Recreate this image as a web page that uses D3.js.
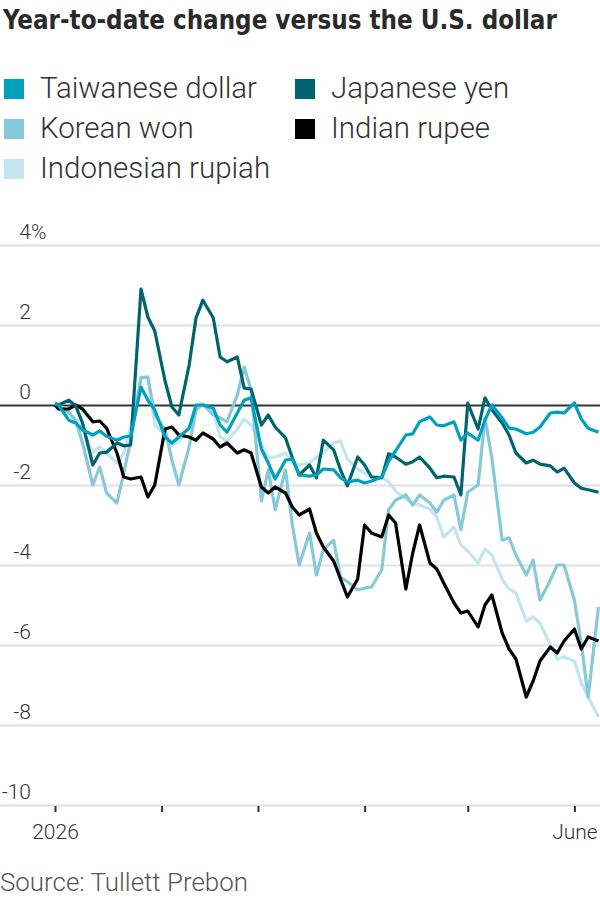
<!DOCTYPE html>
<html><head><meta charset="utf-8">
<script src="https://cdn.jsdelivr.net/npm/d3@7"></script>
<style>body{margin:0;background:#fff}svg{display:block}</style>
</head><body>
<svg id="c" width="600" height="900"></svg>
<script>
const dates = ["2026-01-01","2026-01-02","2026-01-05","2026-01-07","2026-01-09","2026-01-12","2026-01-14","2026-01-16","2026-01-19","2026-01-21","2026-01-23","2026-01-26","2026-01-28","2026-01-30",
"2026-02-02","2026-02-04","2026-02-06","2026-02-09","2026-02-11","2026-02-13","2026-02-16","2026-02-18","2026-02-20","2026-02-23","2026-02-25","2026-02-27",
"2026-03-02","2026-03-04","2026-03-06","2026-03-09","2026-03-11","2026-03-13","2026-03-16","2026-03-18","2026-03-20","2026-03-23","2026-03-25","2026-03-27","2026-03-30",
"2026-04-01","2026-04-03","2026-04-06","2026-04-08","2026-04-10","2026-04-13","2026-04-15","2026-04-17","2026-04-20","2026-04-22","2026-04-24","2026-04-27","2026-04-29",
"2026-05-01","2026-05-04","2026-05-06","2026-05-08","2026-05-11","2026-05-13","2026-05-15","2026-05-18","2026-05-20","2026-05-22","2026-05-25","2026-05-27","2026-05-29",
"2026-06-01","2026-06-03","2026-06-05","2026-06-08"];

const taiwaneseDollar = [0.05,0.0,-0.38,-0.45,-0.62,-0.75,-0.65,-0.78,-0.88,-0.8,-0.78,0.45,0.12,-0.12,
-0.8,-0.95,-0.8,-0.58,0.0,0.0,-0.08,-0.5,-0.68,-0.2,0.12,0.18,
-1.1,-1.45,-1.85,-1.38,-1.35,-1.75,-1.78,-1.75,-1.6,-1.62,-1.82,-1.92,-1.88,
-1.95,-1.9,-1.8,-1.4,-1.15,-0.75,-0.72,-0.42,-0.3,-0.5,-0.52,-0.42,-0.88,
-0.7,-0.88,-0.38,0.0,-0.32,-0.58,-0.6,-0.72,-0.68,-0.55,-0.2,-0.18,-0.2,
0.05,-0.35,-0.58,-0.68];

const japaneseYen = [0,0.0,0.12,-0.02,-0.45,-1.5,-1.2,-1.18,-0.95,-1.02,-1.0,2.9,2.2,1.85,
0.6,-0.05,-0.25,1.0,2.18,2.62,2.18,1.2,1.08,1.2,0.42,0.4,
-0.5,-0.25,-0.55,-0.82,-1.32,-1.75,-1.5,-1.82,-0.88,-1.12,-1.62,-2.02,-1.3,
-1.5,-1.8,-1.82,-1.22,-1.3,-1.48,-1.42,-1.3,-1.58,-1.82,-1.78,-1.8,-2.25,
0.05,-0.6,0.18,-0.12,-0.45,-0.75,-1.2,-1.45,-1.38,-1.48,-1.52,-1.68,-1.58,
-1.95,-2.08,-2.12,-2.18];

const koreanWon = [0,-0.1,-0.18,-0.38,-0.95,-2.0,-1.55,-2.2,-2.45,-1.7,-0.88,0.68,0.7,-0.25,
-0.62,-1.38,-2.0,-1.05,-0.12,0.02,-0.25,-0.32,-0.42,0.25,0.95,0.38,
-2.4,-1.62,-2.62,-1.62,-3.0,-4.0,-3.2,-4.25,-3.62,-3.38,-4.3,-4.42,-4.62,
-4.58,-4.55,-4.12,-2.62,-2.38,-2.25,-2.5,-2.25,-2.45,-2.68,-2.38,-2.25,-3.12,
-2.18,-2.0,-0.32,-1.32,-3.38,-3.32,-3.75,-4.25,-3.88,-4.88,-4.38,-4.0,-4.0,
-4.88,-5.95,-7.3,-5.05];

const indianRupee = [0,-0.1,-0.1,0.0,-0.1,-0.42,-0.4,-0.58,-1.2,-1.8,-1.85,-1.8,-2.3,-2.0,
-0.6,-0.55,-0.75,-0.8,-0.88,-0.7,-0.85,-1.05,-0.95,-1.2,-1.12,-1.2,
-2.05,-2.2,-2.05,-2.2,-2.55,-2.75,-2.6,-3.2,-3.55,-3.9,-4.35,-4.8,-4.35,
-3.0,-3.2,-3.3,-2.75,-2.95,-4.6,-3.7,-3.0,-3.95,-4.1,-4.45,-4.95,-5.2,
-5.15,-5.55,-5.0,-4.75,-5.7,-6.1,-6.35,-7.3,-6.9,-6.4,-6.05,-6.2,-5.9,
-5.6,-6.1,-5.8,-5.9];

const indonesianRupiah = [0.05,0.0,-0.2,-0.38,-0.6,-1.2,-1.05,-1.2,-1.45,-1.2,-0.55,0.7,0.7,-0.5,
-0.75,-1.0,-0.9,-0.55,-0.1,0.0,-0.15,-0.8,-0.9,-0.6,-0.35,-0.5,
-1.0,-1.3,-1.3,-1.2,-1.45,-1.5,-1.45,-1.3,-1.2,-0.95,-0.9,-1.35,-1.6,
-1.7,-1.8,-1.8,-1.92,-2.15,-2.35,-2.45,-2.5,-2.6,-2.8,-3.3,-3.05,-3.5,
-3.65,-3.95,-3.6,-3.75,-4.35,-4.6,-4.7,-5.4,-5.3,-5.45,-6.0,-6.35,-6.3,
-6.4,-6.95,-7.3,-7.8];

const seriesNames = ["Taiwanese dollar","Japanese yen","Korean won","Indian rupee","Indonesian rupiah"];
const seriesColors = ["#00a1be","#00646f","#86c9d8","#000000","#c3e5ed"];
const yTicks = [4,2,0,-2,-4,-6,-8,-10];
const xTickLabels = {"0":"2026","5":"June"};
const titleText = "Year-to-date change versus the U.S. dollar";
const sourceText = "Source: Tullett Prebon";

const parse = d3.utcParse("%Y-%m-%d");
const dd = dates.map(parse);
const svg = d3.select("#c");
const W = 600;

const x = d3.scaleUtc().domain([parse("2026-01-01"), parse("2026-06-01")]).range([55, 574.4]);
const y = d3.scaleLinear().domain([-10, 4]).range([805, 245]);

const sans = "Roboto, 'Liberation Sans', sans-serif";

function fit(sel, target) {
  const node = sel.node();
  const fs = parseFloat(sel.attr("font-size"));
  const w = node.getComputedTextLength();
  sel.attr("font-size", (fs * target / w).toFixed(2));
  return fs * target / w;
}

// Title
const title = svg.append("text").attr("x", 3).attr("y", 29)
  .attr("font-family", "'Liberation Sans Narrow', 'DejaVu Sans Condensed', sans-serif")
  .attr("font-weight", "bold").attr("font-size", 25).attr("fill", "#2a2a2a")
  .text(titleText);
fit(title, 554);

// Legend
const legendPos = [[4,79],[295,79],[4,119],[295,119],[4,159]];
const legendOrder = [0,1,2,3,4];
let legendFs = 28;
const lg = svg.append("g");
legendOrder.forEach((si, k) => {
  const [lx, ly] = legendPos[k];
  lg.append("rect").attr("x", lx).attr("y", ly).attr("width", 20).attr("height", 20).attr("fill", seriesColors[si]);
  const t = lg.append("text").attr("class", "lt").attr("x", lx + 36).attr("y", ly + 18.5)
    .attr("font-family", sans).attr("font-weight", 300).attr("font-size", legendFs)
    .attr("fill", "#333").text(seriesNames[si]);
  if (si === 0) legendFs = fit(t, 217);
});
lg.selectAll("text.lt").attr("font-size", legendFs.toFixed(2));

// Y grid + labels
const yAxis = svg.append("g")
  .call(d3.axisRight(y).tickValues(yTicks).tickSize(W).tickFormat(d => d === 4 ? "4%" : String(d)));
yAxis.select(".domain").remove();
yAxis.selectAll(".tick line").attr("stroke", d => d === 0 ? "#333" : "#e0e0e0").attr("stroke-width", 2);
yAxis.selectAll(".tick text").attr("x", 31).attr("y", 0).attr("dy", -7).attr("text-anchor", "end")
  .attr("font-family", sans).attr("font-weight", 300).attr("font-size", 21).attr("fill", "#333");
yAxis.selectAll(".tick text").filter(d => d === 4).each(function() {
  const t = d3.select(this);
  t.text("4");
  const w4 = this.getComputedTextLength();
  t.text("4%");
  const wAll = this.getComputedTextLength();
  t.attr("x", 31 + (wAll - w4));
});

// Lines
const series = [indonesianRupiah, koreanWon, indianRupee, japaneseYen, taiwaneseDollar];
const seriesIdx = [4, 2, 3, 1, 0];
const line = d3.line().x((d, i) => x(dd[i])).y(d => y(d));
svg.append("g").selectAll("path").data(series).join("path")
  .attr("d", d => line(d))
  .attr("fill", "none")
  .attr("stroke", (d, i) => seriesColors[seriesIdx[i]])
  .attr("stroke-width", 3.2)
  .attr("stroke-linejoin", "round");

// X axis
const months = d3.utcMonth.range(parse("2026-01-01"), parse("2026-06-02"));
const xAxis = svg.append("g").attr("transform", "translate(0,805)")
  .call(d3.axisBottom(x).tickValues(months).tickSize(7).tickPadding(12)
    .tickFormat((d, i) => xTickLabels[i] || ""));
xAxis.select(".domain").remove();
xAxis.selectAll(".tick line").attr("stroke", "#333").attr("stroke-width", 2).attr("y1", 1);
xAxis.selectAll(".tick text").attr("font-family", sans).attr("font-weight", 300)
  .attr("font-size", 21).attr("fill", "#333");

// Source
const src = svg.append("text").attr("x", 0).attr("y", 891)
  .attr("font-family", sans).attr("font-weight", 300).attr("font-size", 22).attr("fill", "#555")
  .text(sourceText);
fit(src, 248);
</script>
</body></html>
